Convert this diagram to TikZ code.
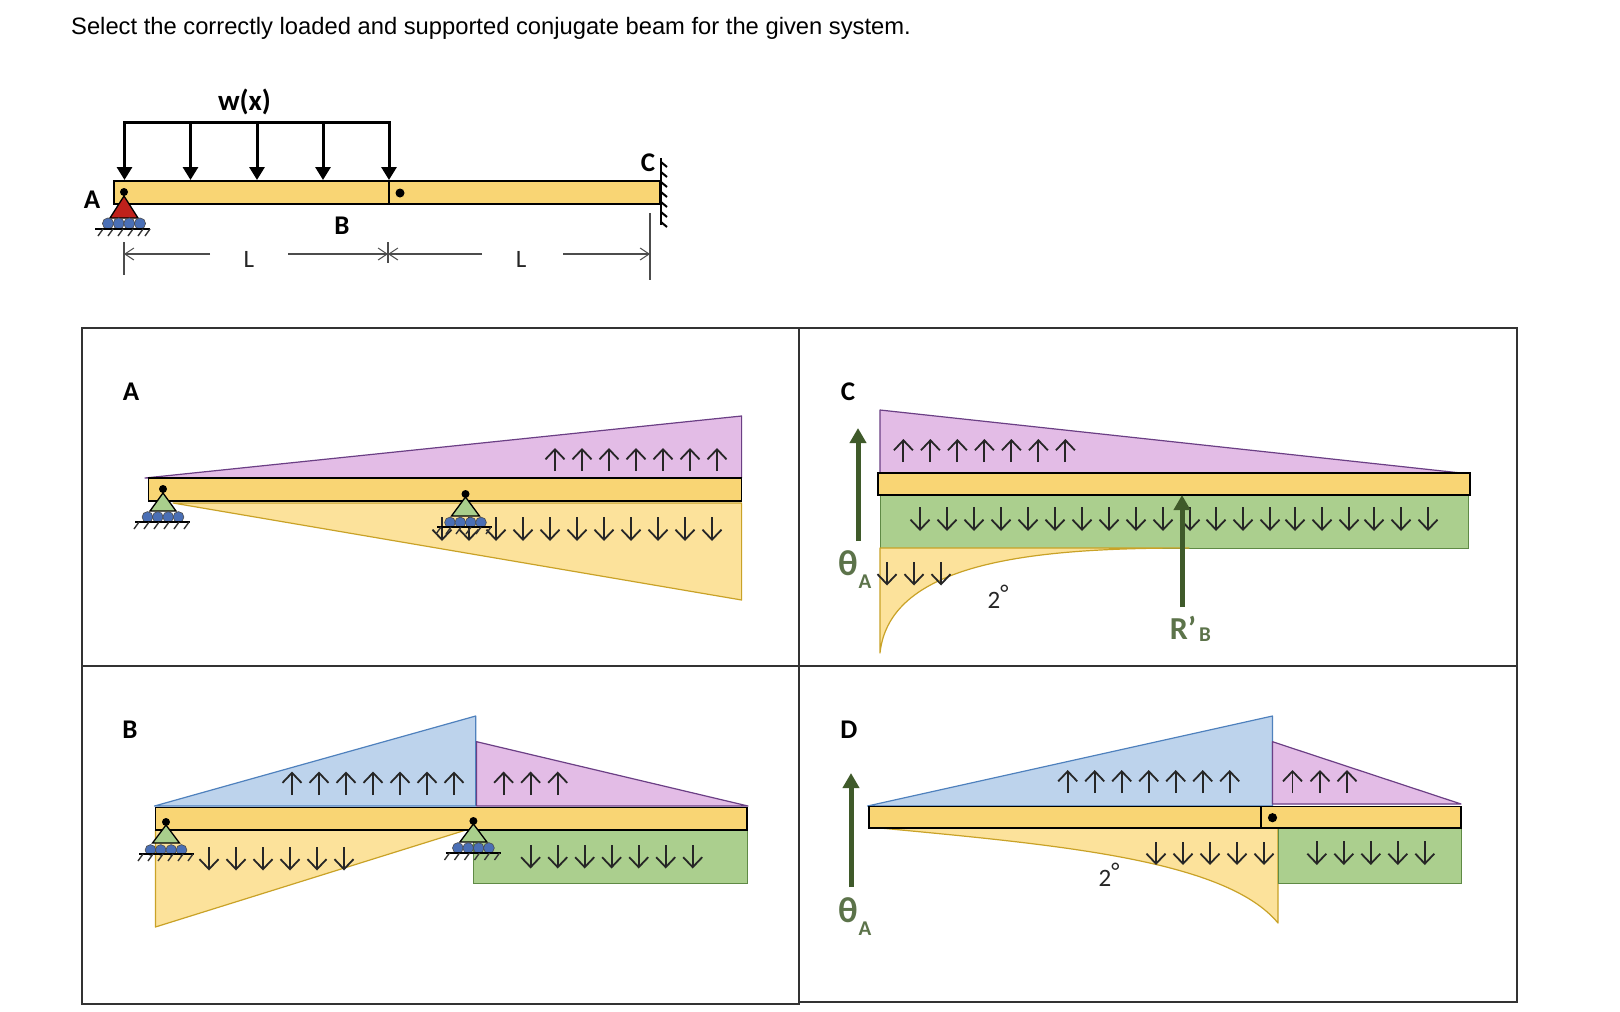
\documentclass[tikz,border=0pt]{standalone}
\usepackage{fontspec}
\setmainfont{Carlito}
\newfontfamily\titlefont{Liberation Sans}
\usetikzlibrary{arrows.meta}
\definecolor{beamfill}{HTML}{F9D574}
\definecolor{yelfill}{HTML}{FCE29B}
\definecolor{yelline}{HTML}{C9A227}
\definecolor{purfill}{HTML}{E3BCE6}
\definecolor{purline}{HTML}{6B3F85}
\definecolor{blufill}{HTML}{BDD3EC}
\definecolor{bluline}{HTML}{4F81BD}
\definecolor{grnfill}{HTML}{ABCF8E}
\definecolor{grnline}{HTML}{5F8A45}
\definecolor{darkgrn}{HTML}{3F5A2A}
\definecolor{roller}{HTML}{4A6FB5}
\definecolor{redsup}{HTML}{C0211B}
\definecolor{trisup}{HTML}{A9CF8C}
\tikzset{
  x=1pt,y=-1pt,
  beambar/.style={draw=black,line width=1.6pt,fill=beamfill},
  purtri/.style={draw=purline,line width=1.2pt,fill=purfill,line join=round},
  blutri/.style={draw=bluline,line width=1.2pt,fill=blufill,line join=round},
  yeltri/.style={draw=yelline,line width=1.2pt,fill=yelfill,line join=round},
  grnbox/.style={draw=grnline,line width=1pt,fill=grnfill},
  thinarrow/.style={draw=black!85,line width=1.9pt,-{Straight Barb[length=10pt,width=19pt,line width=1.8pt]}},
  loadarrow/.style={draw=black,line width=3pt,-{Triangle[length=13pt,width=15pt]}},
  greenarrow/.style={draw=darkgrn,line width=5pt,-{Triangle[length=15pt,width=16pt]}},
  dimline/.style={draw=black!70,line width=1.1pt},
  dimarrow/.style={draw=black!70,line width=1.1pt,-{Straight Barb[length=9pt,width=12pt,line width=1pt]}},
  lab/.style={inner sep=0pt,font=\fontsize{27}{27}\bfseries\selectfont},
  plain/.style={inner sep=0pt,font=\fontsize{25}{25}\selectfont,text=black!85},
  theta/.style={inner sep=0pt,text=darkgrn!85!white,font=\fontsize{36}{36}\bfseries\selectfont},
  subl/.style={inner sep=0pt,text=darkgrn!85!white,font=\fontsize{21}{21}\bfseries\selectfont},
  frameline/.style={draw=black!80,line width=2pt}
}
% support: centre x, dot y, apex y, base y, half width, roller y, left of ground, ground y, fill
\newcommand{\suppdraw}[9]{%
  \draw[black,line width=1.3pt,fill=#9] (#1,#3) -- (#1-#5,#4) -- (#1+#5,#4) -- cycle;
  \fill[black] (#1,#2) circle (4);
  \foreach \rr in {-15.5,-5.2,5.2,15.5}
    \draw[fill=roller,draw=black!70,line width=.6pt] (#1+\rr,#6) circle (5.4);
  \draw[black,line width=1.5pt] (#7,#8) -- (#7+55,#8);
  \foreach \hh in {4,14,24,34,44,54}
    \draw[black!80,line width=1.4pt] (#7+\hh,#8) -- (#7+\hh-5,#8+7);
}
\newcommand{\uparrows}[3]{\foreach \ax in {#1} \draw[thinarrow] (\ax,#2) -- (\ax,#3);}
\newcommand{\twodeg}{2\raisebox{.55ex}{\fontsize{24}{24}\selectfont\textdegree}}
\begin{document}
\begin{tikzpicture}
\useasboundingbox (0,0) rectangle (1620,1012);
\fill[white] (0,0) rectangle (1620,1012);
\node[anchor=west,inner sep=0pt,font=\titlefont\fontsize{23.75}{25}\selectfont] (title) at (71,28) {Select the correctly loaded and supported conjugate beam for the given system.};

% ---- given system ----
\node[lab,font=\fontsize{29}{29}\bfseries\selectfont] (wx) at (244.5,102) {w(x)};
\draw[beambar] (114,181) rectangle (660,204);
\draw[black,line width=1.6pt] (389,181) -- (389,204);
\draw[black,line width=3pt,line cap=rect] (124.5,122) -- (389,122);
\foreach \ax in {124.5,190.5,257,323,389}
  \draw[loadarrow] (\ax,122) -- (\ax,180);
\fill[black] (400,193) circle (4.5);
\draw[black,line width=1.3pt,fill=redsup] (124,196) -- (110,218) -- (138,218) -- cycle;
\fill[black] (124,192) circle (4);
\foreach \rr in {-16,-5.3,5.3,16}
  \draw[fill=roller,draw=black!70,line width=.6pt] (124+\rr,223.5) circle (5.6);
\draw[black,line width=1.4pt] (95,229) -- (150,229);
\foreach \hh in {103,113,123,133,143,150}
  \draw[black!80,line width=1.4pt] (\hh,229) -- (\hh-5,236);
\draw[black,line width=1.6pt] (661,158) -- (661,225);
\foreach \wy in {162,172,182,192,202,212,222}
  \draw[black,line width=2pt] (661,\wy) -- (667,\wy+5);
\node[lab] (labA) at (92,200) {A};
\node[lab] (labB) at (342,226) {B};
\node[lab] (labC) at (648,163) {C};
\draw[dimline] (124,242) -- (124,275);
\draw[dimline] (388,242) -- (388,263);
\draw[dimline] (650,213) -- (650,280);
\draw[dimarrow] (210,254) -- (124,254);
\draw[dimarrow] (288,254) -- (388,254);
\draw[dimarrow] (482,254) -- (388,254);
\draw[dimarrow] (563,254) -- (650,254);
\node[plain] (L1) at (249,259) {L};
\node[plain] (L2) at (521,259) {L};

% ---- frames ----
\draw[frameline] (82,328) rectangle (799,666);
\draw[frameline] (799,328) rectangle (1517,666);
\draw[frameline] (82,666) rectangle (799,1004);
\draw[frameline] (799,666) rectangle (1517,1002);

% ---- panel A ----
\node[lab] (pA) at (131,392) {A};
\draw[purtri] (145,478) -- (741.6,416) -- (741.6,478) -- cycle;
\draw[yeltri] (173,503) -- (741.6,600) -- (741.6,503) -- cycle;
\draw[beambar] (148.5,478) rectangle (741.6,501);
\uparrows{555,582,609,636,663,690,717}{471}{448}
\uparrows{442,469,496,523,550,577,604,631,658,685,712}{517}{541}
\suppdraw{163}{489}{493}{511}{13}{517}{135}{522}{trisup}
\suppdraw{465.5}{494}{497}{516}{14}{522.5}{437}{527}{trisup}

% ---- panel C ----
\node[lab] (pC) at (848,392) {C};
\draw[purtri] (880,410) -- (1461,473) -- (880,473) -- cycle;
\draw[grnbox] (880,495) rectangle (1468.5,548);
\draw[yeltri] (880,548) -- (1189,548) .. controls (1040,548) and (890,560) .. (880,653) -- cycle;
\draw[beambar] (878,473) rectangle (1470,495);
\uparrows{903.4,930.4,957.4,984.4,1011.4,1038.4,1065.4}{462}{439}
\uparrows{920,947,974,1001,1028,1055,1082,1109,1136,1163,1190,1216,1243,1270,1295,1322,1349,1374,1401,1428}{507}{531}
\uparrows{887,914,941}{562}{585.5}
\draw[greenarrow] (858,541) -- (858,428);
\node[theta] (thC) at (848,563) {θ};
\node[subl] (subC) at (865,582) {A};
\draw[greenarrow] (1182,607) -- (1182,495);
\node[theta,font=\fontsize{32}{32}\bfseries\selectfont] (rC) at (1183,628) {R’};
\node[subl] (subRC) at (1205,635) {B};
\node[plain] (twoC) at (998,597) {\twodeg};

% ---- panel B ----
\node[lab] (pB) at (130,730) {B};
\draw[blutri] (154.5,806) -- (475.7,716) -- (475.7,806) -- cycle;
\draw[purtri] (476.6,741.7) -- (748,806) -- (476.6,806) -- cycle;
\draw[yeltri] (155.4,830) -- (466,830) -- (155.4,927) -- cycle;
\draw[grnbox] (473.4,830) rectangle (747,883);
\draw[beambar] (155.4,807.5) rectangle (747,830);
\uparrows{292,319,346,373,400,427,454}{795}{771.5}
\uparrows{503.6,530.6,557.7}{795}{771.5}
\uparrows{209,236,263,290,317,344}{847}{870.5}
\uparrows{530.6,557.7,584.7,611.6,638.7,665.7,692.7}{845}{868.5}
\suppdraw{166}{822}{825}{843}{13.5}{850}{139}{854}{trisup}
\suppdraw{473.4}{821}{824}{842}{13.5}{848}{445.5}{853}{trisup}

% ---- panel D ----
\node[lab] (pD) at (849,730) {D};
\draw[blutri] (867.5,806) -- (1272.5,716) -- (1272.5,806) -- cycle;
\draw[purtri] (1272.5,741.7) -- (1461,804) -- (1272.5,804) -- cycle;
\draw[yeltri] (880,828) .. controls (1060,845) and (1226,860) .. (1278,923) -- (1278,828) -- cycle;
\draw[grnbox] (1278,828) rectangle (1461.5,883);
\draw[beambar] (869,806.5) rectangle (1461,827.7);
\draw[black,line width=1.6pt] (1261,806.5) -- (1261,827.7);
\fill[black] (1272.5,817.7) circle (4.6);
\uparrows{1067.7,1094.7,1121.7,1148.7,1175.7,1202.7,1229.7}{793}{770}
\uparrows{1292.5,1320,1347}{793}{770}
\uparrows{1156,1183,1210,1237,1264}{842}{865}
\uparrows{1316.8,1343.8,1370.8,1397.8,1424.8}{841}{865}
\draw[greenarrow] (851,887) -- (851,773);
\node[theta] (thD) at (848,910) {θ};
\node[subl] (subD) at (865,929) {A};
\node[plain] (twoD) at (1109,875) {\twodeg};
\end{tikzpicture}
\end{document}
